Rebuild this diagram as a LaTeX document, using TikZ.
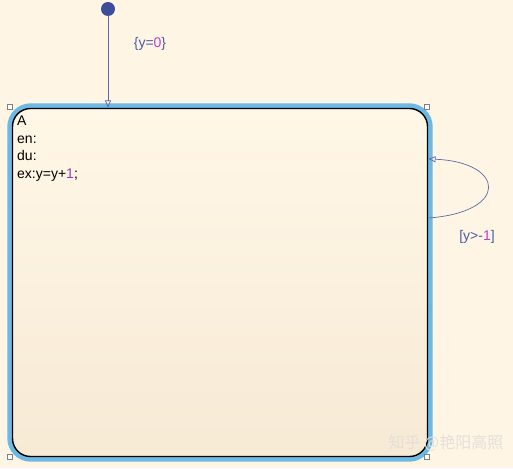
\documentclass[tikz,border=0pt]{standalone}
\usepackage{fontspec}
\setmainfont{Liberation Sans}
\newfontfamily\cjk{Noto Sans CJK SC}
\usetikzlibrary{arrows.meta,calc}
\definecolor{bg}{HTML}{FEF5E4}
\definecolor{topfill}{HTML}{FFF7E7}
\definecolor{botfill}{HTML}{F7EAD5}
\definecolor{bord}{HTML}{6CB9E6}
\definecolor{trcol}{HTML}{5B6AA3}
\definecolor{lblcol}{HTML}{4C5CA6}
\definecolor{magen}{HTML}{C33BC2}
\definecolor{purp}{HTML}{9A3AAE}
\definecolor{dotcol}{HTML}{3F4C9A}
\definecolor{wm}{HTML}{E4DFD9}
\tikzset{
  statebox/.style={rectangle, draw=black, line width=1.4pt, rounded corners=18pt,
    minimum width=415pt, minimum height=348pt, inner sep=0pt,
    top color=topfill, bottom color=botfill},
  handle/.style={rectangle, draw=gray, fill=white, line width=0.5pt,
    minimum size=5pt, inner sep=0pt},
  trans/.style={draw=trcol, line width=0.7pt, -{Triangle[open, length=7pt, width=6pt]}},
  initdot/.style={circle, fill=dotcol, minimum size=14pt, inner sep=0pt},
  stxt/.style={anchor=base west, inner sep=0pt, font=\fontsize{14}{16}\selectfont, text=black},
  lbl/.style={inner sep=0pt, font=\fontsize{14}{16}\selectfont, text=lblcol},
}
\begin{document}
\begin{tikzpicture}[x=1pt,y=-1pt]
\fill[bg] (0,0) rectangle (513,468);
\useasboundingbox (0,0) rectangle (513,468);
% blue outer border
\draw[bord, line width=5pt, rounded corners=21pt] (9.8,105.8) rectangle (430.2,459.2);
\node[statebox] (A) at (220,282.5) {};
% handles
\node[handle] (h1) at (10,107) {};
\node[handle] (h2) at (427,107) {};
\node[handle] (h3) at (10,457) {};
\node[handle] (h4) at (427,457) {};
% state text
\node[stxt] (tA) at (17,125.5) {A};
\node[stxt] (ten) at (17,143) {en:};
\node[stxt] (tdu) at (17,160.5) {du:};
\node[stxt] (tex) at (17,178) {ex:y=y+\textcolor{purp}{1};};
% initial transition
\node[initdot] (init) at (108,9) {};
\coordinate (ientry) at (108,107.5);
\draw[trans, shorten <=-1pt] (init) -- (ientry);
\node[lbl] (il) at (150,44) {\{y=\textcolor{magen}{0}\}};
% self loop
\coordinate (l1) at (428.5,218);
\coordinate (l2) at (428.5,159);
\draw[trans] (l1) .. controls (510,212) and (505,162) .. (l2);
\node[lbl] (sl) at (477,237) {[y>-\textcolor{magen}{1}]};
% watermark
\node[inner sep=0pt, text=wm, font=\cjk\fontsize{16}{18}\selectfont] (wmk) at (446,443) {知乎 @艳阳高照};
\end{tikzpicture}
\end{document}
